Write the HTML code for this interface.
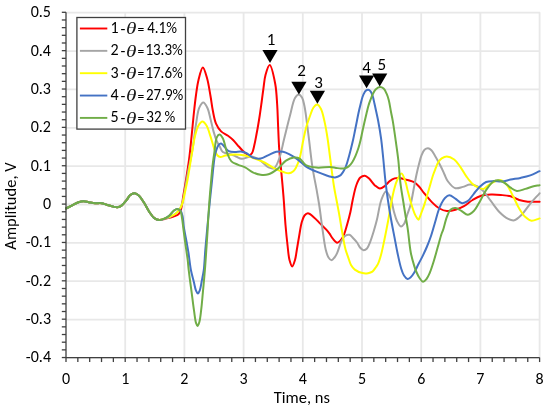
<!DOCTYPE html>
<html><head><meta charset="utf-8"><style>
html,body{margin:0;padding:0;background:#fff;}
body{width:550px;height:409px;overflow:hidden;}
svg{display:block;}
</style></head><body>
<svg width="550" height="409" viewBox="0 0 550 409">
<rect width="550" height="409" fill="#fff"/>
<g stroke="#E8E8E8" stroke-width="1.8"><line x1="66.0" y1="12.70" x2="540.0" y2="12.70"/><line x1="66.0" y1="51.06" x2="540.0" y2="51.06"/><line x1="66.0" y1="89.42" x2="540.0" y2="89.42"/><line x1="66.0" y1="127.78" x2="540.0" y2="127.78"/><line x1="66.0" y1="166.14" x2="540.0" y2="166.14"/><line x1="66.0" y1="204.50" x2="540.0" y2="204.50"/><line x1="66.0" y1="242.86" x2="540.0" y2="242.86"/><line x1="66.0" y1="281.22" x2="540.0" y2="281.22"/><line x1="66.0" y1="319.58" x2="540.0" y2="319.58"/><line x1="66.0" y1="357.94" x2="540.0" y2="357.94"/><line x1="125.20" y1="12.3" x2="125.20" y2="357.5"/><line x1="184.40" y1="12.3" x2="184.40" y2="357.5"/><line x1="243.60" y1="12.3" x2="243.60" y2="357.5"/><line x1="302.80" y1="12.3" x2="302.80" y2="357.5"/><line x1="362.00" y1="12.3" x2="362.00" y2="357.5"/><line x1="421.20" y1="12.3" x2="421.20" y2="357.5"/><line x1="480.40" y1="12.3" x2="480.40" y2="357.5"/><line x1="539.60" y1="12.3" x2="539.60" y2="357.5"/></g>
<g fill="none" stroke-width="2" stroke-linejoin="round" stroke-linecap="round">
<path stroke="#FF0000" d="M66.00,208.50 C68.07,207.47 70.13,206.44 72.20,205.40 C74.29,204.35 76.46,202.88 78.50,202.20 C80.25,201.62 81.90,201.30 83.60,201.30 C85.30,201.30 86.90,201.90 88.70,202.20 C90.71,202.53 92.96,203.03 95.10,203.20 C97.23,203.37 99.52,202.91 101.50,203.20 C103.29,203.46 104.73,204.17 106.50,204.70 C108.50,205.30 110.94,206.16 112.90,206.60 C114.52,206.96 115.93,207.49 117.40,207.30 C118.90,207.11 120.39,206.43 121.80,205.40 C123.59,204.10 125.41,201.45 126.90,199.60 C128.19,198.01 128.93,196.06 130.30,195.00 C131.52,194.06 133.10,193.21 134.50,193.30 C136.00,193.39 137.58,194.55 139.00,195.80 C140.84,197.43 142.47,200.28 144.10,202.80 C145.88,205.54 147.39,209.04 149.20,211.70 C150.81,214.08 152.39,216.71 154.30,218.10 C155.86,219.23 157.68,219.88 159.40,220.00 C161.08,220.12 162.81,219.27 164.50,218.90 C166.18,218.54 167.95,218.23 169.50,217.80 C170.89,217.42 172.02,217.02 173.40,216.50 C175.00,215.89 177.23,215.48 178.50,214.30 C179.75,213.14 180.30,211.57 181.00,209.50 C182.11,206.20 182.49,200.82 183.30,196.00 C184.24,190.43 185.35,184.00 186.30,178.00 C187.25,172.00 188.22,166.01 189.00,160.00 C189.78,154.01 190.39,147.83 191.00,142.00 C191.58,136.51 192.07,131.33 192.60,126.00 C193.13,120.67 193.62,115.24 194.20,110.00 C194.76,104.92 195.28,99.99 196.00,95.00 C196.72,89.99 197.30,84.73 198.50,80.00 C199.62,75.59 201.32,67.54 202.80,67.50 C204.16,67.47 205.81,73.97 207.00,78.00 C208.51,83.14 209.50,90.32 210.50,96.00 C211.40,101.09 211.86,105.81 212.80,110.50 C213.70,115.00 214.40,119.91 216.00,123.60 C217.33,126.67 219.01,129.35 221.10,131.40 C223.06,133.31 225.92,134.19 228.00,135.70 C229.88,137.07 231.39,138.33 233.10,140.00 C235.09,141.95 237.14,144.66 239.10,146.80 C240.90,148.77 242.56,150.95 244.40,152.40 C245.98,153.64 247.92,155.30 249.30,155.20 C250.39,155.12 251.34,154.12 252.10,153.00 C253.23,151.31 253.62,148.11 254.30,145.30 C255.11,141.97 255.84,137.77 256.50,134.30 C257.09,131.21 257.57,128.57 258.10,125.50 C258.67,122.16 259.25,118.62 259.80,115.00 C260.39,111.14 260.92,107.22 261.50,103.00 C262.15,98.28 262.81,92.82 263.50,88.00 C264.14,83.51 264.37,78.97 265.50,75.00 C266.52,71.41 268.31,65.02 269.70,65.10 C271.56,65.21 273.95,77.23 275.20,83.70 C276.51,90.50 276.73,98.14 277.20,105.00 C277.64,111.38 277.70,116.85 278.00,123.50 C278.35,131.30 278.67,141.22 279.20,148.90 C279.64,155.28 280.20,159.77 280.80,166.40 C281.59,175.12 282.71,186.77 283.50,196.70 C284.27,206.29 284.77,216.39 285.50,225.00 C286.12,232.25 286.78,238.82 287.50,245.00 C288.13,250.36 288.44,256.10 289.50,260.00 C290.22,262.64 291.28,266.39 292.20,266.40 C293.12,266.41 294.26,262.42 295.00,260.00 C295.89,257.08 296.18,253.55 296.80,250.00 C297.51,245.95 298.20,241.48 299.00,237.00 C299.86,232.18 300.63,225.92 301.80,222.00 C302.59,219.34 303.26,216.98 304.50,215.50 C305.44,214.37 306.61,213.28 307.90,213.30 C309.65,213.33 312.03,215.87 314.00,217.50 C316.14,219.26 318.15,221.56 320.20,223.60 C322.25,225.63 324.63,227.84 326.30,229.70 C327.58,231.13 328.45,232.28 329.50,233.70 C330.62,235.23 331.52,237.11 332.80,238.60 C334.09,240.11 335.80,242.59 337.20,242.70 C338.34,242.79 339.50,241.53 340.50,240.50 C341.76,239.20 342.82,237.33 343.80,235.20 C345.08,232.42 345.96,228.62 347.00,225.00 C348.17,220.94 349.44,216.26 350.40,212.00 C351.32,207.94 351.78,204.21 352.70,200.00 C353.74,195.27 354.86,189.05 356.40,185.00 C357.53,182.02 358.62,179.14 360.30,177.60 C361.58,176.42 363.35,175.56 364.80,175.70 C366.29,175.84 367.65,177.30 369.10,178.60 C371.00,180.30 372.90,183.68 374.90,185.40 C376.52,186.79 378.22,188.43 379.90,188.50 C381.52,188.57 383.25,187.13 384.80,186.00 C386.54,184.74 387.97,182.40 389.70,181.10 C391.25,179.93 392.91,178.91 394.60,178.40 C396.18,177.92 397.88,177.86 399.50,178.00 C401.15,178.15 402.84,178.92 404.40,179.30 C405.82,179.64 407.04,179.78 408.50,180.20 C410.24,180.70 412.38,181.19 414.10,182.20 C415.90,183.26 417.44,184.84 419.00,186.50 C420.73,188.35 422.02,190.59 423.90,192.90 C426.25,195.79 429.32,199.68 432.10,202.40 C434.53,204.78 436.90,207.05 439.50,208.50 C441.83,209.80 444.24,210.75 446.80,211.00 C449.52,211.26 452.59,210.59 455.40,209.80 C458.32,208.98 461.21,207.66 464.00,206.10 C466.96,204.44 469.66,201.74 472.60,200.00 C475.40,198.34 478.16,196.70 481.20,195.80 C484.29,194.89 487.73,194.73 491.00,194.60 C494.26,194.47 497.54,194.72 500.80,195.00 C504.07,195.28 507.50,195.44 510.60,196.30 C513.62,197.13 516.28,199.10 519.20,200.00 C522.02,200.87 524.69,201.40 527.80,201.70 C531.41,202.05 535.67,201.70 539.60,201.70"/>
<path stroke="#A5A5A5" d="M66.00,208.50 C68.07,207.47 70.13,206.44 72.20,205.40 C74.29,204.35 76.46,202.88 78.50,202.20 C80.25,201.62 81.90,201.30 83.60,201.30 C85.30,201.30 86.90,201.90 88.70,202.20 C90.71,202.53 92.96,203.03 95.10,203.20 C97.23,203.37 99.52,202.91 101.50,203.20 C103.29,203.46 104.73,204.17 106.50,204.70 C108.50,205.30 110.94,206.16 112.90,206.60 C114.52,206.96 115.93,207.49 117.40,207.30 C118.90,207.11 120.39,206.43 121.80,205.40 C123.59,204.10 125.41,201.45 126.90,199.60 C128.19,198.01 128.93,196.06 130.30,195.00 C131.52,194.06 133.10,193.21 134.50,193.30 C136.00,193.39 137.58,194.55 139.00,195.80 C140.84,197.43 142.47,200.28 144.10,202.80 C145.88,205.54 147.39,209.04 149.20,211.70 C150.81,214.08 152.39,216.71 154.30,218.10 C155.86,219.23 157.69,219.91 159.40,220.00 C161.09,220.09 162.77,219.19 164.50,218.70 C166.31,218.19 168.26,217.78 170.00,217.00 C171.76,216.22 173.47,215.11 175.00,214.00 C176.46,212.94 177.88,211.99 179.00,210.50 C180.29,208.77 181.13,206.68 182.00,204.00 C183.27,200.09 184.03,194.16 185.00,189.00 C186.03,183.52 187.01,177.17 188.00,172.00 C188.84,167.65 189.70,164.16 190.50,160.00 C191.37,155.52 192.31,150.39 193.00,146.00 C193.61,142.12 193.99,138.70 194.50,135.00 C195.02,131.23 195.40,127.70 196.10,123.60 C196.93,118.73 197.59,111.40 199.30,107.70 C200.38,105.36 201.97,102.60 203.30,102.60 C204.63,102.60 206.20,105.54 207.30,107.70 C208.78,110.60 209.48,115.04 210.50,118.90 C211.58,122.99 212.47,127.70 213.60,131.60 C214.59,135.02 215.60,138.35 216.80,141.10 C217.78,143.35 218.96,145.12 220.00,147.00 C220.96,148.74 221.26,150.78 222.80,152.00 C224.72,153.53 229.00,153.63 231.40,154.50 C233.20,155.15 234.38,155.82 236.00,156.50 C237.79,157.25 239.69,158.66 241.70,158.80 C243.84,158.95 246.48,157.44 248.50,157.10 C250.09,156.83 251.20,156.40 252.80,156.70 C255.07,157.13 258.09,158.93 260.60,160.60 C263.34,162.43 265.89,166.28 268.50,167.40 C270.45,168.24 272.67,168.87 274.30,168.00 C276.49,166.82 277.75,162.40 279.20,158.60 C281.19,153.37 282.39,145.90 284.10,139.10 C285.98,131.63 288.06,122.85 290.00,115.60 C291.69,109.30 292.87,101.47 295.00,98.00 C296.13,96.16 297.59,94.49 298.80,94.50 C299.91,94.50 301.14,96.10 302.00,97.50 C303.21,99.47 303.62,102.15 304.40,105.80 C305.85,112.60 307.18,125.32 308.50,135.40 C309.88,145.90 311.01,157.95 312.50,167.60 C313.73,175.54 315.32,182.56 316.50,189.20 C317.51,194.87 318.30,199.12 319.20,205.00 C320.33,212.37 321.45,222.19 322.60,230.00 C323.62,236.91 324.43,244.47 325.70,249.50 C326.53,252.80 327.26,255.64 328.50,257.50 C329.35,258.78 330.50,260.20 331.50,260.20 C332.50,260.20 333.60,258.61 334.50,257.50 C335.54,256.21 336.28,254.78 337.20,252.80 C338.62,249.75 340.00,243.72 341.60,240.70 C342.67,238.68 343.59,236.98 345.00,236.00 C346.25,235.14 348.08,234.49 349.40,234.80 C350.76,235.12 351.80,236.80 353.00,238.00 C354.34,239.34 355.83,240.90 357.00,242.50 C358.15,244.07 358.81,246.18 360.00,247.50 C361.05,248.66 362.38,250.09 363.60,250.20 C364.72,250.30 366.02,249.49 367.00,248.50 C368.36,247.12 369.20,244.36 370.20,241.90 C371.39,238.97 372.43,235.49 373.50,232.00 C374.67,228.16 375.76,224.37 376.90,219.80 C378.35,214.01 379.39,205.12 381.30,200.00 C382.62,196.46 384.28,191.60 385.90,191.50 C387.37,191.41 389.25,195.28 390.50,198.00 C392.18,201.66 392.80,207.87 394.00,212.00 C394.98,215.35 395.69,218.45 397.00,221.00 C398.11,223.16 399.67,226.34 401.00,226.50 C402.00,226.62 403.11,225.28 404.00,224.00 C405.47,221.89 406.39,217.25 407.50,214.00 C408.55,210.93 409.59,208.41 410.50,205.00 C411.65,200.67 412.52,195.00 413.50,190.00 C414.48,185.00 415.41,179.60 416.40,175.00 C417.25,171.04 418.10,167.43 419.00,164.00 C419.80,160.95 420.47,157.91 421.50,155.40 C422.36,153.28 423.21,150.98 424.50,149.80 C425.50,148.89 426.86,148.23 428.00,148.30 C429.16,148.37 430.37,149.32 431.40,150.30 C432.69,151.52 433.70,153.61 434.80,155.40 C435.97,157.30 437.08,159.33 438.20,161.40 C439.38,163.58 440.63,165.96 441.70,168.20 C442.72,170.33 443.49,172.36 444.50,174.50 C445.58,176.78 446.36,179.33 448.00,181.50 C449.86,183.95 452.73,187.43 455.40,188.20 C457.71,188.87 460.36,187.51 462.80,186.90 C465.26,186.28 467.65,184.57 470.10,184.50 C472.55,184.43 475.26,185.36 477.50,186.50 C479.76,187.65 481.60,189.33 483.60,191.40 C486.11,193.99 488.43,197.85 491.00,201.20 C493.74,204.77 496.53,209.14 499.60,212.20 C502.31,214.91 505.44,217.59 508.20,218.90 C510.29,219.89 512.27,220.74 514.30,220.30 C516.77,219.77 519.29,217.08 521.70,214.70 C524.66,211.77 527.31,207.18 530.30,203.60 C533.28,200.04 536.50,196.73 539.60,193.30"/>
<path stroke="#FFFF00" d="M66.00,208.50 C68.07,207.47 70.13,206.44 72.20,205.40 C74.29,204.35 76.46,202.88 78.50,202.20 C80.25,201.62 81.90,201.30 83.60,201.30 C85.30,201.30 86.90,201.90 88.70,202.20 C90.71,202.53 92.96,203.03 95.10,203.20 C97.23,203.37 99.52,202.91 101.50,203.20 C103.29,203.46 104.73,204.17 106.50,204.70 C108.50,205.30 110.94,206.16 112.90,206.60 C114.52,206.96 115.93,207.49 117.40,207.30 C118.90,207.11 120.39,206.43 121.80,205.40 C123.59,204.10 125.41,201.45 126.90,199.60 C128.19,198.01 128.93,196.06 130.30,195.00 C131.52,194.06 133.10,193.21 134.50,193.30 C136.00,193.39 137.58,194.55 139.00,195.80 C140.84,197.43 142.47,200.28 144.10,202.80 C145.88,205.54 147.39,209.04 149.20,211.70 C150.81,214.08 152.39,216.71 154.30,218.10 C155.86,219.23 157.74,219.95 159.40,220.00 C160.96,220.05 162.37,219.13 164.00,218.60 C165.87,217.99 168.03,217.35 170.00,216.50 C172.03,215.62 174.32,214.77 176.00,213.40 C177.63,212.08 178.91,210.26 180.00,208.50 C181.07,206.78 181.76,205.19 182.50,203.00 C183.51,200.00 184.18,195.75 185.00,192.00 C185.85,188.09 186.75,184.01 187.50,180.00 C188.25,176.01 188.77,172.40 189.50,168.00 C190.40,162.61 191.53,155.62 192.50,150.00 C193.36,145.04 193.91,140.30 195.00,136.00 C195.96,132.21 196.95,128.05 198.50,125.50 C199.60,123.69 201.08,121.52 202.40,121.50 C203.74,121.48 205.31,123.66 206.50,125.50 C208.19,128.11 209.22,132.61 210.50,136.40 C211.87,140.45 213.04,145.63 214.40,149.10 C215.40,151.64 216.25,154.20 217.50,155.50 C218.34,156.37 219.20,156.88 220.30,157.00 C221.72,157.16 223.43,155.99 225.40,155.60 C228.04,155.07 231.60,154.42 234.80,154.40 C238.13,154.38 241.66,154.90 245.00,155.60 C248.33,156.30 251.57,157.46 254.80,158.60 C258.07,159.75 261.32,160.92 264.50,162.50 C267.83,164.16 270.96,166.75 274.30,168.40 C277.50,169.99 281.36,171.48 284.10,172.30 C285.98,172.86 287.47,173.47 289.00,173.30 C290.43,173.14 291.87,172.38 293.00,171.50 C294.14,170.61 294.90,169.55 295.80,168.00 C297.19,165.59 298.58,161.83 299.70,158.00 C301.12,153.13 301.98,146.28 303.10,141.00 C304.08,136.37 304.85,132.17 306.00,128.00 C307.10,124.02 308.48,120.08 309.80,116.50 C310.99,113.29 311.96,109.58 313.50,107.50 C314.58,106.05 316.01,104.39 317.20,104.50 C318.52,104.62 319.92,106.96 321.00,109.00 C322.63,112.07 323.55,117.34 324.60,121.90 C325.76,126.94 326.63,132.41 327.50,138.00 C328.44,144.04 329.06,149.90 330.00,156.90 C331.17,165.67 332.73,178.56 334.00,186.50 C334.86,191.88 335.63,195.31 336.50,200.00 C337.45,205.11 338.57,210.75 339.50,216.00 C340.40,221.08 341.07,225.78 342.00,231.00 C343.02,236.73 344.14,244.18 345.40,249.00 C346.27,252.33 347.25,254.59 348.20,257.30 C349.12,259.92 349.77,262.85 351.00,265.00 C352.05,266.84 353.13,268.32 354.80,269.60 C356.79,271.12 360.10,272.56 362.50,273.10 C364.44,273.54 366.29,273.48 368.00,273.20 C369.57,272.94 371.12,272.53 372.40,271.60 C373.83,270.56 375.00,268.40 376.00,267.00 C376.79,265.88 377.35,265.25 378.00,263.90 C379.04,261.74 380.11,258.14 381.00,255.00 C381.97,251.57 382.58,248.38 383.50,244.10 C384.80,238.03 386.51,229.37 387.90,222.00 C389.28,214.67 390.55,206.22 391.80,200.00 C392.73,195.39 393.52,191.51 394.50,188.00 C395.28,185.19 395.86,182.89 397.00,180.50 C398.17,178.05 400.12,173.41 401.50,173.50 C402.94,173.59 404.34,178.75 405.40,181.70 C406.55,184.89 407.08,188.51 408.00,192.00 C408.95,195.61 409.82,199.25 411.00,203.00 C412.26,207.03 413.90,212.45 415.40,215.40 C416.32,217.21 417.63,219.10 418.20,219.50 C418.36,219.61 418.45,219.68 418.60,219.60 C419.25,219.27 420.54,215.01 421.50,212.50 C422.57,209.71 423.61,206.95 424.70,203.60 C426.09,199.35 427.59,193.82 429.00,189.00 C430.38,184.28 431.82,178.81 433.10,175.00 C434.01,172.31 434.83,170.39 435.70,168.20 C436.53,166.13 437.12,163.89 438.20,162.20 C439.17,160.69 440.29,159.36 441.70,158.40 C443.15,157.41 444.95,156.38 446.80,156.40 C449.04,156.43 452.02,157.89 454.20,159.50 C456.57,161.25 458.34,164.12 460.30,166.80 C462.46,169.76 464.34,173.62 466.50,176.60 C468.46,179.31 470.39,182.09 472.60,184.00 C474.50,185.65 476.72,186.88 478.70,187.70 C480.37,188.39 482.04,189.22 483.60,188.90 C485.32,188.55 486.74,186.39 488.50,185.20 C490.41,183.91 492.57,182.32 494.70,181.50 C496.68,180.74 498.86,179.83 500.80,180.30 C502.99,180.83 505.14,183.00 507.00,185.20 C509.36,187.99 511.10,192.49 513.10,196.30 C515.17,200.25 517.00,204.87 519.20,208.50 C521.14,211.70 523.11,214.98 525.40,217.10 C527.28,218.84 529.25,220.51 531.50,220.80 C533.95,221.12 536.90,219.20 539.60,218.40"/>
<path stroke="#4472C4" d="M66.00,208.50 C68.07,207.47 70.13,206.44 72.20,205.40 C74.29,204.35 76.46,202.88 78.50,202.20 C80.25,201.62 81.90,201.30 83.60,201.30 C85.30,201.30 86.90,201.90 88.70,202.20 C90.71,202.53 92.96,203.03 95.10,203.20 C97.23,203.37 99.52,202.91 101.50,203.20 C103.29,203.46 104.73,204.17 106.50,204.70 C108.50,205.30 110.94,206.16 112.90,206.60 C114.52,206.96 115.93,207.49 117.40,207.30 C118.90,207.11 120.39,206.43 121.80,205.40 C123.59,204.10 125.41,201.45 126.90,199.60 C128.19,198.01 128.93,196.06 130.30,195.00 C131.52,194.06 133.10,193.21 134.50,193.30 C136.00,193.39 137.58,194.55 139.00,195.80 C140.84,197.43 142.47,200.28 144.10,202.80 C145.88,205.54 147.39,209.04 149.20,211.70 C150.81,214.08 152.39,216.71 154.30,218.10 C155.86,219.23 157.69,219.91 159.40,220.00 C161.09,220.09 162.86,219.41 164.50,218.70 C166.24,217.95 167.96,216.81 169.50,215.50 C171.14,214.11 172.52,211.63 174.00,210.50 C175.08,209.68 176.13,208.90 177.20,208.90 C178.27,208.90 179.56,209.57 180.40,210.50 C181.48,211.69 181.96,213.82 182.50,216.00 C183.23,218.98 183.20,222.95 183.80,226.90 C184.52,231.65 185.86,237.81 186.70,242.50 C187.39,246.34 187.89,249.08 188.50,253.00 C189.28,257.98 189.91,264.87 190.90,270.00 C191.73,274.31 192.90,278.16 193.80,281.80 C194.58,284.95 195.09,288.51 196.00,290.60 C196.56,291.89 197.28,293.51 197.90,293.50 C198.51,293.49 199.17,291.93 199.70,290.60 C200.64,288.27 201.22,283.74 201.90,280.30 C202.58,276.87 203.28,274.01 203.80,270.00 C204.52,264.45 204.74,256.75 205.30,250.00 C205.87,243.06 206.57,235.74 207.20,228.90 C207.80,222.43 208.42,215.94 209.00,210.00 C209.52,204.71 209.98,200.00 210.50,195.00 C211.02,190.00 211.59,184.91 212.10,180.00 C212.59,175.25 212.97,170.43 213.50,166.00 C213.98,161.97 214.21,158.10 215.10,154.50 C215.93,151.16 217.10,146.87 218.50,145.10 C219.28,144.11 220.21,143.31 221.10,143.40 C222.20,143.51 223.30,145.60 224.50,146.80 C225.85,148.15 227.08,150.23 228.80,151.10 C230.52,151.97 232.80,151.93 234.80,152.00 C236.80,152.07 238.88,151.34 240.80,151.50 C242.61,151.65 244.23,151.99 246.00,152.80 C248.21,153.81 250.33,156.64 252.80,157.60 C255.20,158.54 258.04,158.97 260.60,158.60 C263.28,158.21 265.87,156.24 268.50,155.10 C271.10,153.97 273.74,152.32 276.30,151.80 C278.60,151.33 280.87,151.35 283.10,151.80 C285.44,152.27 287.68,153.49 290.00,154.70 C292.57,156.04 295.25,157.74 297.80,159.60 C300.52,161.58 302.81,164.33 305.80,166.30 C309.00,168.41 312.88,170.12 316.50,171.70 C320.05,173.25 324.63,174.81 327.30,175.70 C328.85,176.22 329.73,176.52 331.00,176.80 C332.30,177.09 333.62,177.53 335.00,177.40 C336.57,177.25 338.57,176.61 339.90,175.70 C341.13,174.86 341.92,173.55 342.80,172.30 C343.73,170.97 344.58,169.48 345.30,167.90 C346.06,166.22 346.58,164.42 347.20,162.50 C347.89,160.35 348.55,157.98 349.20,155.60 C349.89,153.08 350.55,150.42 351.20,147.80 C351.85,145.15 352.50,142.50 353.10,139.80 C353.71,137.06 354.24,134.28 354.80,131.50 C355.37,128.68 355.91,125.95 356.50,123.00 C357.14,119.80 357.81,116.19 358.50,113.00 C359.14,110.05 359.81,107.24 360.50,104.50 C361.15,101.92 361.74,99.16 362.50,97.00 C363.11,95.28 363.78,93.70 364.50,92.50 C365.04,91.60 365.52,90.76 366.20,90.30 C366.79,89.90 367.54,89.60 368.20,89.70 C368.94,89.82 369.75,90.44 370.40,91.20 C371.30,92.26 371.97,94.12 372.60,95.90 C373.36,98.06 373.81,100.73 374.40,103.30 C375.04,106.08 375.68,109.12 376.30,112.00 C376.91,114.85 377.46,117.13 378.10,120.50 C379.03,125.42 380.26,132.53 381.10,138.70 C381.97,145.03 382.50,151.23 383.20,158.00 C383.97,165.49 384.66,174.32 385.50,181.70 C386.24,188.20 387.00,193.85 387.90,200.00 C388.82,206.28 389.89,212.72 391.00,219.00 C392.09,225.19 393.38,231.52 394.50,237.40 C395.54,242.82 396.40,247.84 397.50,253.00 C398.60,258.14 399.80,264.19 401.10,268.30 C402.02,271.19 402.76,273.62 404.00,275.50 C404.99,277.00 406.31,278.81 407.50,279.00 C408.48,279.16 409.53,278.30 410.50,277.50 C411.83,276.40 413.09,274.45 414.30,272.50 C415.79,270.10 417.05,266.86 418.50,264.00 C419.99,261.06 421.67,258.06 423.10,255.10 C424.49,252.23 425.74,249.53 427.00,246.50 C428.38,243.19 429.73,239.75 431.00,236.00 C432.42,231.81 433.72,226.87 435.00,222.50 C436.21,218.38 437.25,214.00 438.50,210.50 C439.51,207.67 440.52,205.20 441.70,203.00 C442.71,201.11 443.66,199.31 445.00,198.00 C446.23,196.80 447.73,195.34 449.30,195.30 C451.14,195.25 453.40,197.43 455.40,198.70 C457.47,200.02 459.37,202.75 461.50,203.10 C463.48,203.43 465.81,202.46 467.70,201.20 C470.00,199.66 471.75,196.25 473.80,193.80 C475.85,191.35 477.82,188.54 480.00,186.50 C481.94,184.69 483.84,182.90 486.10,182.00 C488.34,181.11 490.94,181.19 493.50,181.10 C496.23,181.00 499.17,181.74 502.00,181.50 C504.87,181.25 507.63,180.18 510.60,179.60 C513.78,178.98 517.22,178.60 520.50,177.90 C523.79,177.20 527.12,176.51 530.30,175.40 C533.49,174.28 536.50,172.60 539.60,171.20"/>
<path stroke="#70AD47" d="M66.00,208.50 C68.07,207.47 70.13,206.44 72.20,205.40 C74.29,204.35 76.46,202.88 78.50,202.20 C80.25,201.62 81.90,201.30 83.60,201.30 C85.30,201.30 86.90,201.90 88.70,202.20 C90.71,202.53 92.96,203.03 95.10,203.20 C97.23,203.37 99.52,202.91 101.50,203.20 C103.29,203.46 104.73,204.17 106.50,204.70 C108.50,205.30 110.94,206.16 112.90,206.60 C114.52,206.96 115.93,207.49 117.40,207.30 C118.90,207.11 120.39,206.43 121.80,205.40 C123.59,204.10 125.41,201.45 126.90,199.60 C128.19,198.01 128.93,196.06 130.30,195.00 C131.52,194.06 133.10,193.21 134.50,193.30 C136.00,193.39 137.58,194.55 139.00,195.80 C140.84,197.43 142.47,200.28 144.10,202.80 C145.88,205.54 147.39,209.04 149.20,211.70 C150.81,214.08 152.39,216.71 154.30,218.10 C155.86,219.23 157.69,219.91 159.40,220.00 C161.09,220.09 162.86,219.41 164.50,218.70 C166.24,217.95 167.96,216.81 169.50,215.50 C171.14,214.11 172.52,211.63 174.00,210.50 C175.08,209.68 176.15,208.84 177.20,208.90 C178.29,208.96 179.62,209.88 180.40,211.00 C181.47,212.54 181.54,215.45 182.00,218.00 C182.54,221.03 182.82,224.36 183.30,228.00 C183.87,232.39 184.51,237.44 185.20,242.50 C185.96,248.06 187.09,254.97 187.70,260.00 C188.16,263.79 188.31,266.59 188.70,270.00 C189.11,273.58 189.62,277.33 190.10,281.00 C190.58,284.69 191.04,287.90 191.60,292.10 C192.33,297.61 193.28,305.62 194.10,311.20 C194.74,315.58 195.17,320.32 196.00,322.90 C196.44,324.27 196.98,325.90 197.50,325.90 C198.08,325.90 198.79,323.85 199.30,322.20 C200.20,319.31 200.64,314.23 201.20,309.70 C201.87,304.34 202.32,298.30 202.90,292.10 C203.55,285.15 204.32,277.19 204.90,270.00 C205.45,263.17 205.86,256.49 206.30,250.00 C206.72,243.84 207.17,237.51 207.50,232.00 C207.78,227.32 207.91,223.74 208.20,219.00 C208.55,213.26 209.01,206.41 209.50,200.00 C210.00,193.42 210.66,186.07 211.20,180.00 C211.65,174.92 211.97,170.59 212.50,166.00 C213.01,161.53 213.62,157.36 214.30,152.80 C215.04,147.86 215.37,140.40 216.80,137.40 C217.52,135.90 218.48,134.50 219.40,134.50 C220.46,134.50 221.78,136.47 222.80,138.30 C224.56,141.46 225.46,148.66 227.10,152.80 C228.40,156.10 229.38,159.38 231.40,161.40 C233.20,163.20 235.90,163.79 238.20,164.80 C240.47,165.79 242.80,166.25 245.10,167.40 C247.66,168.68 250.14,171.05 252.80,172.30 C255.32,173.48 257.96,174.47 260.60,174.80 C263.19,175.12 265.84,175.14 268.50,174.30 C271.69,173.30 275.27,170.70 278.20,168.40 C281.09,166.13 283.18,162.42 286.00,160.60 C288.47,159.00 291.44,157.84 293.90,157.60 C295.95,157.40 297.89,157.63 299.70,158.60 C301.92,159.78 303.22,163.51 305.80,165.00 C308.68,166.67 312.70,167.22 316.50,167.60 C320.71,168.03 326.41,166.93 330.00,167.10 C332.41,167.22 334.10,167.66 336.00,167.90 C337.72,168.12 339.36,168.45 340.90,168.50 C342.27,168.55 343.53,168.63 344.80,168.30 C346.14,167.96 347.53,167.30 348.70,166.40 C349.98,165.42 351.05,164.06 352.10,162.50 C353.39,160.59 354.55,158.00 355.60,155.60 C356.69,153.11 357.66,150.42 358.50,147.80 C359.33,145.22 359.95,142.70 360.60,140.00 C361.29,137.12 361.85,134.00 362.50,131.00 C363.15,128.00 363.82,124.96 364.50,122.00 C365.16,119.12 365.82,116.29 366.50,113.50 C367.16,110.79 367.76,107.96 368.50,105.50 C369.15,103.34 369.89,101.40 370.60,99.50 C371.26,97.75 371.79,96.13 372.60,94.50 C373.44,92.80 374.30,90.77 375.60,89.50 C376.81,88.32 378.59,87.07 380.00,87.00 C381.24,86.94 382.57,87.68 383.60,88.60 C384.86,89.72 385.76,91.84 386.60,93.70 C387.52,95.71 388.14,97.76 388.80,100.30 C389.66,103.62 390.30,108.35 391.00,112.00 C391.62,115.23 392.17,117.49 392.80,121.10 C393.71,126.37 394.78,134.11 395.70,140.60 C396.61,147.07 397.53,153.20 398.30,160.00 C399.15,167.50 399.57,176.22 400.50,183.70 C401.34,190.48 402.61,197.33 403.50,203.00 C404.20,207.47 404.72,210.88 405.40,215.00 C406.12,219.39 406.93,223.41 407.70,228.60 C408.72,235.48 409.47,245.87 410.80,252.70 C411.80,257.85 413.24,262.65 414.30,266.10 C414.98,268.32 415.41,269.64 416.20,271.50 C417.10,273.59 418.24,276.19 419.50,278.00 C420.56,279.52 421.79,281.71 423.00,281.80 C424.13,281.89 425.47,280.24 426.50,279.00 C427.77,277.47 428.68,275.35 429.70,273.00 C431.04,269.93 432.25,265.95 433.50,262.00 C434.93,257.47 436.34,252.08 437.70,247.30 C439.00,242.76 440.44,237.15 441.50,234.00 C442.10,232.22 442.50,231.66 443.10,229.90 C444.14,226.83 445.38,220.72 446.80,217.10 C447.92,214.27 448.81,211.27 450.50,209.80 C451.84,208.63 453.70,208.01 455.40,208.10 C457.34,208.21 459.48,209.92 461.50,211.00 C463.58,212.11 465.64,214.71 467.70,214.70 C469.74,214.69 471.95,212.82 473.80,211.00 C476.16,208.68 477.99,204.60 480.00,201.20 C482.10,197.65 483.77,193.46 486.10,190.10 C488.30,186.92 491.04,183.01 493.50,181.50 C495.14,180.50 496.70,180.17 498.40,180.30 C500.34,180.44 502.55,181.65 504.50,182.80 C506.63,184.06 508.49,186.33 510.60,187.70 C512.60,189.00 514.51,190.61 516.80,190.90 C519.38,191.22 522.67,189.67 525.40,188.90 C527.95,188.19 530.28,187.12 532.70,186.50 C535.01,185.90 537.30,185.63 539.60,185.20"/>
</g>
<g stroke="#404040" stroke-width="1.3"><line x1="66.00" y1="12.30" x2="66.00" y2="357.54"/><line x1="66.00" y1="357.54" x2="539.60" y2="357.54"/><line x1="61.80" y1="12.30" x2="66.00" y2="12.30"/><line x1="61.80" y1="19.97" x2="66.00" y2="19.97"/><line x1="61.80" y1="27.64" x2="66.00" y2="27.64"/><line x1="61.80" y1="35.32" x2="66.00" y2="35.32"/><line x1="61.80" y1="42.99" x2="66.00" y2="42.99"/><line x1="61.80" y1="50.66" x2="66.00" y2="50.66"/><line x1="61.80" y1="58.33" x2="66.00" y2="58.33"/><line x1="61.80" y1="66.00" x2="66.00" y2="66.00"/><line x1="61.80" y1="73.68" x2="66.00" y2="73.68"/><line x1="61.80" y1="81.35" x2="66.00" y2="81.35"/><line x1="61.80" y1="89.02" x2="66.00" y2="89.02"/><line x1="61.80" y1="96.69" x2="66.00" y2="96.69"/><line x1="61.80" y1="104.36" x2="66.00" y2="104.36"/><line x1="61.80" y1="112.04" x2="66.00" y2="112.04"/><line x1="61.80" y1="119.71" x2="66.00" y2="119.71"/><line x1="61.80" y1="127.38" x2="66.00" y2="127.38"/><line x1="61.80" y1="135.05" x2="66.00" y2="135.05"/><line x1="61.80" y1="142.72" x2="66.00" y2="142.72"/><line x1="61.80" y1="150.40" x2="66.00" y2="150.40"/><line x1="61.80" y1="158.07" x2="66.00" y2="158.07"/><line x1="61.80" y1="165.74" x2="66.00" y2="165.74"/><line x1="61.80" y1="173.41" x2="66.00" y2="173.41"/><line x1="61.80" y1="181.08" x2="66.00" y2="181.08"/><line x1="61.80" y1="188.76" x2="66.00" y2="188.76"/><line x1="61.80" y1="196.43" x2="66.00" y2="196.43"/><line x1="61.80" y1="204.10" x2="66.00" y2="204.10"/><line x1="61.80" y1="211.77" x2="66.00" y2="211.77"/><line x1="61.80" y1="219.44" x2="66.00" y2="219.44"/><line x1="61.80" y1="227.12" x2="66.00" y2="227.12"/><line x1="61.80" y1="234.79" x2="66.00" y2="234.79"/><line x1="61.80" y1="242.46" x2="66.00" y2="242.46"/><line x1="61.80" y1="250.13" x2="66.00" y2="250.13"/><line x1="61.80" y1="257.80" x2="66.00" y2="257.80"/><line x1="61.80" y1="265.48" x2="66.00" y2="265.48"/><line x1="61.80" y1="273.15" x2="66.00" y2="273.15"/><line x1="61.80" y1="280.82" x2="66.00" y2="280.82"/><line x1="61.80" y1="288.49" x2="66.00" y2="288.49"/><line x1="61.80" y1="296.16" x2="66.00" y2="296.16"/><line x1="61.80" y1="303.84" x2="66.00" y2="303.84"/><line x1="61.80" y1="311.51" x2="66.00" y2="311.51"/><line x1="61.80" y1="319.18" x2="66.00" y2="319.18"/><line x1="61.80" y1="326.85" x2="66.00" y2="326.85"/><line x1="61.80" y1="334.52" x2="66.00" y2="334.52"/><line x1="61.80" y1="342.20" x2="66.00" y2="342.20"/><line x1="61.80" y1="349.87" x2="66.00" y2="349.87"/><line x1="61.80" y1="357.54" x2="66.00" y2="357.54"/><line x1="66.00" y1="357.54" x2="66.00" y2="362.04"/><line x1="77.84" y1="357.54" x2="77.84" y2="362.04"/><line x1="89.68" y1="357.54" x2="89.68" y2="362.04"/><line x1="101.52" y1="357.54" x2="101.52" y2="362.04"/><line x1="113.36" y1="357.54" x2="113.36" y2="362.04"/><line x1="125.20" y1="357.54" x2="125.20" y2="362.04"/><line x1="137.04" y1="357.54" x2="137.04" y2="362.04"/><line x1="148.88" y1="357.54" x2="148.88" y2="362.04"/><line x1="160.72" y1="357.54" x2="160.72" y2="362.04"/><line x1="172.56" y1="357.54" x2="172.56" y2="362.04"/><line x1="184.40" y1="357.54" x2="184.40" y2="362.04"/><line x1="196.24" y1="357.54" x2="196.24" y2="362.04"/><line x1="208.08" y1="357.54" x2="208.08" y2="362.04"/><line x1="219.92" y1="357.54" x2="219.92" y2="362.04"/><line x1="231.76" y1="357.54" x2="231.76" y2="362.04"/><line x1="243.60" y1="357.54" x2="243.60" y2="362.04"/><line x1="255.44" y1="357.54" x2="255.44" y2="362.04"/><line x1="267.28" y1="357.54" x2="267.28" y2="362.04"/><line x1="279.12" y1="357.54" x2="279.12" y2="362.04"/><line x1="290.96" y1="357.54" x2="290.96" y2="362.04"/><line x1="302.80" y1="357.54" x2="302.80" y2="362.04"/><line x1="314.64" y1="357.54" x2="314.64" y2="362.04"/><line x1="326.48" y1="357.54" x2="326.48" y2="362.04"/><line x1="338.32" y1="357.54" x2="338.32" y2="362.04"/><line x1="350.16" y1="357.54" x2="350.16" y2="362.04"/><line x1="362.00" y1="357.54" x2="362.00" y2="362.04"/><line x1="373.84" y1="357.54" x2="373.84" y2="362.04"/><line x1="385.68" y1="357.54" x2="385.68" y2="362.04"/><line x1="397.52" y1="357.54" x2="397.52" y2="362.04"/><line x1="409.36" y1="357.54" x2="409.36" y2="362.04"/><line x1="421.20" y1="357.54" x2="421.20" y2="362.04"/><line x1="433.04" y1="357.54" x2="433.04" y2="362.04"/><line x1="444.88" y1="357.54" x2="444.88" y2="362.04"/><line x1="456.72" y1="357.54" x2="456.72" y2="362.04"/><line x1="468.56" y1="357.54" x2="468.56" y2="362.04"/><line x1="480.40" y1="357.54" x2="480.40" y2="362.04"/><line x1="492.24" y1="357.54" x2="492.24" y2="362.04"/><line x1="504.08" y1="357.54" x2="504.08" y2="362.04"/><line x1="515.92" y1="357.54" x2="515.92" y2="362.04"/><line x1="527.76" y1="357.54" x2="527.76" y2="362.04"/><line x1="539.60" y1="357.54" x2="539.60" y2="362.04"/></g>
<g font-family="Carlito, 'Liberation Sans', sans-serif" font-size="16" fill="#000"><text x="51" y="17.20" text-anchor="end" textLength="20.27" lengthAdjust="spacingAndGlyphs">0.5</text><text x="51" y="55.56" text-anchor="end" textLength="20.27" lengthAdjust="spacingAndGlyphs">0.4</text><text x="51" y="93.92" text-anchor="end" textLength="20.27" lengthAdjust="spacingAndGlyphs">0.3</text><text x="51" y="132.28" text-anchor="end" textLength="20.27" lengthAdjust="spacingAndGlyphs">0.2</text><text x="51" y="170.64" text-anchor="end" textLength="20.27" lengthAdjust="spacingAndGlyphs">0.1</text><text x="51" y="209.00" text-anchor="end">0</text><text x="51" y="247.36" text-anchor="end" textLength="25.16" lengthAdjust="spacingAndGlyphs">-0.1</text><text x="51" y="285.72" text-anchor="end" textLength="25.16" lengthAdjust="spacingAndGlyphs">-0.2</text><text x="51" y="324.08" text-anchor="end" textLength="25.16" lengthAdjust="spacingAndGlyphs">-0.3</text><text x="51" y="362.44" text-anchor="end" textLength="25.16" lengthAdjust="spacingAndGlyphs">-0.4</text><text x="66.00" y="383.9" text-anchor="middle">0</text><text x="125.20" y="383.9" text-anchor="middle">1</text><text x="184.40" y="383.9" text-anchor="middle">2</text><text x="243.60" y="383.9" text-anchor="middle">3</text><text x="302.80" y="383.9" text-anchor="middle">4</text><text x="362.00" y="383.9" text-anchor="middle">5</text><text x="421.20" y="383.9" text-anchor="middle">6</text><text x="480.40" y="383.9" text-anchor="middle">7</text><text x="539.60" y="383.9" text-anchor="middle">8</text><text x="301.9" y="403.1" text-anchor="middle" font-size="16.5" textLength="56.19" lengthAdjust="spacingAndGlyphs">Time, ns</text><text transform="translate(16.4,206.0) rotate(-90)" text-anchor="middle" font-size="16.5" textLength="87.27" lengthAdjust="spacingAndGlyphs">Amplitude, V</text></g>
<rect x="76.9" y="17.5" width="108.6" height="111.6" fill="#fff" stroke="#404040" stroke-width="1.3"/><line x1="79.9" y1="28.50" x2="107.3" y2="28.50" stroke="#FF0000" stroke-width="1.9"/><text x="110.5" y="32.80" font-family="Carlito, 'Liberation Sans', sans-serif" font-size="16">1</text><text x="120.4" y="33.60" font-family="Carlito, 'Liberation Sans', sans-serif" font-size="16">-</text><text transform="translate(125.9,34.30) scale(1.22,1)" font-family="'Liberation Serif', serif" font-style="italic" font-size="17.4" fill="#1a1a1a">&#952;</text><text transform="translate(137.4,33.70) scale(0.8,0.8)" font-family="Carlito, 'Liberation Sans', sans-serif" font-size="17">=</text><text transform="translate(147.20,32.80) scale(0.95,1)" font-family="Carlito, 'Liberation Sans', sans-serif" font-size="15.8" textLength="31.30" lengthAdjust="spacingAndGlyphs">4.1%</text><line x1="79.9" y1="50.85" x2="107.3" y2="50.85" stroke="#A5A5A5" stroke-width="1.9"/><text x="110.5" y="55.15" font-family="Carlito, 'Liberation Sans', sans-serif" font-size="16">2</text><text x="120.4" y="55.95" font-family="Carlito, 'Liberation Sans', sans-serif" font-size="16">-</text><text transform="translate(125.9,56.65) scale(1.22,1)" font-family="'Liberation Serif', serif" font-style="italic" font-size="17.4" fill="#1a1a1a">&#952;</text><text transform="translate(137.4,56.05) scale(0.8,0.8)" font-family="Carlito, 'Liberation Sans', sans-serif" font-size="17">=</text><text transform="translate(145.40,55.15) scale(0.95,1)" font-family="Carlito, 'Liberation Sans', sans-serif" font-size="15.8" textLength="39.30" lengthAdjust="spacingAndGlyphs">13.3%</text><line x1="79.9" y1="73.20" x2="107.3" y2="73.20" stroke="#FFFF00" stroke-width="1.9"/><text x="110.5" y="77.50" font-family="Carlito, 'Liberation Sans', sans-serif" font-size="16">3</text><text x="120.4" y="78.30" font-family="Carlito, 'Liberation Sans', sans-serif" font-size="16">-</text><text transform="translate(125.9,79.00) scale(1.22,1)" font-family="'Liberation Serif', serif" font-style="italic" font-size="17.4" fill="#1a1a1a">&#952;</text><text transform="translate(137.4,78.40) scale(0.8,0.8)" font-family="Carlito, 'Liberation Sans', sans-serif" font-size="17">=</text><text transform="translate(145.40,77.50) scale(0.95,1)" font-family="Carlito, 'Liberation Sans', sans-serif" font-size="15.8" textLength="39.30" lengthAdjust="spacingAndGlyphs">17.6%</text><line x1="79.9" y1="95.55" x2="107.3" y2="95.55" stroke="#4472C4" stroke-width="1.9"/><text x="110.5" y="99.85" font-family="Carlito, 'Liberation Sans', sans-serif" font-size="16">4</text><text x="120.4" y="100.65" font-family="Carlito, 'Liberation Sans', sans-serif" font-size="16">-</text><text transform="translate(125.9,101.35) scale(1.22,1)" font-family="'Liberation Serif', serif" font-style="italic" font-size="17.4" fill="#1a1a1a">&#952;</text><text transform="translate(137.4,100.75) scale(0.8,0.8)" font-family="Carlito, 'Liberation Sans', sans-serif" font-size="17">=</text><text transform="translate(146.00,99.85) scale(0.95,1)" font-family="Carlito, 'Liberation Sans', sans-serif" font-size="15.8" textLength="39.30" lengthAdjust="spacingAndGlyphs">27.9%</text><line x1="79.9" y1="117.90" x2="107.3" y2="117.90" stroke="#70AD47" stroke-width="1.9"/><text x="110.5" y="122.20" font-family="Carlito, 'Liberation Sans', sans-serif" font-size="16">5</text><text x="120.4" y="123.00" font-family="Carlito, 'Liberation Sans', sans-serif" font-size="16">-</text><text transform="translate(125.9,123.70) scale(1.22,1)" font-family="'Liberation Serif', serif" font-style="italic" font-size="17.4" fill="#1a1a1a">&#952;</text><text transform="translate(137.4,123.10) scale(0.8,0.8)" font-family="Carlito, 'Liberation Sans', sans-serif" font-size="17">=</text><text transform="translate(146.30,122.20) scale(0.95,1)" font-family="Carlito, 'Liberation Sans', sans-serif" font-size="15.8" textLength="30.47" lengthAdjust="spacingAndGlyphs">32&#8201;%</text>
<polygon points="262.4,50.0 277.6,50.0 270.0,62.9" fill="#000"/><text x="271.1" y="45.3" text-anchor="middle" font-family="Carlito, 'Liberation Sans', sans-serif" font-size="17">1</text><polygon points="291.3,81.7 306.5,81.7 298.9,94.6" fill="#000"/><text x="301.6" y="75.8" text-anchor="middle" font-family="Carlito, 'Liberation Sans', sans-serif" font-size="17">2</text><polygon points="309.8,90.8 325.0,90.8 317.4,103.7" fill="#000"/><text x="318.6" y="88.4" text-anchor="middle" font-family="Carlito, 'Liberation Sans', sans-serif" font-size="17">3</text><polygon points="359.0,75.4 374.2,75.4 366.6,88.3" fill="#000"/><text x="366.6" y="73.1" text-anchor="middle" font-family="Carlito, 'Liberation Sans', sans-serif" font-size="17">4</text><polygon points="372.1,73.5 387.3,73.5 379.7,86.4" fill="#000"/><text x="381.8" y="69.5" text-anchor="middle" font-family="Carlito, 'Liberation Sans', sans-serif" font-size="17">5</text>
</svg>
</body></html>
